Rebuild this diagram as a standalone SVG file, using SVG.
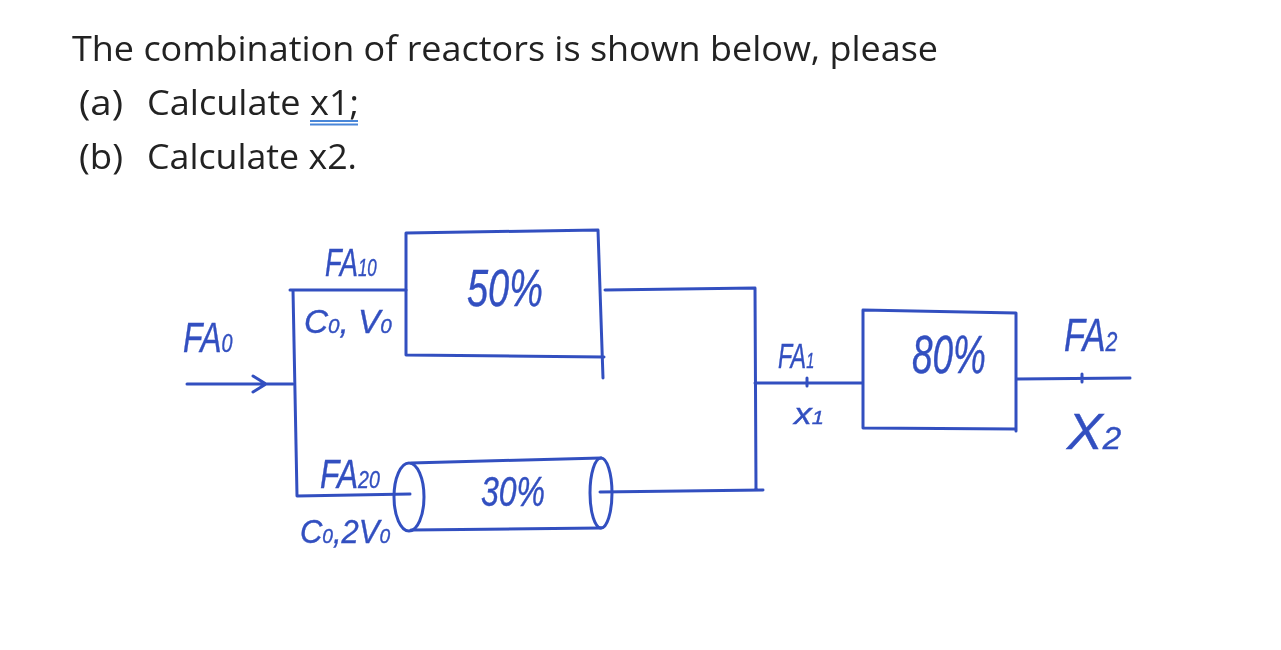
<svg xmlns="http://www.w3.org/2000/svg" width="1281" height="650" viewBox="0 0 1281 650">
<defs><filter id="soft" x="-5%" y="-5%" width="110%" height="110%"><feGaussianBlur stdDeviation="0.55"/></filter></defs>
<style>
.q{font-family:"Open Sans","Liberation Sans",sans-serif;font-size:34px;fill:#222}
.h{font-family:"Liberation Sans",sans-serif;font-style:italic;fill:#3350c0;stroke:#3350c0;stroke-width:.4}
.l{fill:none;stroke:#3350c0;stroke-width:3;stroke-linecap:round;stroke-linejoin:round}
.u{stroke:#4a86d8;stroke-width:1.8;fill:none}
.s{font-size:62%}
</style>
<rect width="1281" height="650" fill="#fff"/>
<g id="question" filter="url(#soft)">
<text class="q" x="72" y="61" textLength="866" lengthAdjust="spacingAndGlyphs">The combination of reactors is shown below, please</text>
<text class="q" x="79" y="115" textLength="44" lengthAdjust="spacingAndGlyphs">(a)</text>
<text class="q" x="147" y="115" textLength="212" lengthAdjust="spacingAndGlyphs">Calculate x1;</text>
<text class="q" x="79" y="169" textLength="44" lengthAdjust="spacingAndGlyphs">(b)</text>
<text class="q" x="147" y="169" textLength="210" lengthAdjust="spacingAndGlyphs">Calculate x2.</text>
<path class="u" d="M310 121H358M310 124.500H358"/>
</g>
<g id="connectors" filter="url(#soft)">
<path class="l" d="M187 384H293M253 376L266 384L253 392"/>
<path class="l" d="M290 290H406M293 290L297 496L410 494"/>
<path class="l" d="M605 290L755 288L756 490M600 492L763 490"/>
<path class="l" d="M755 383L862 383M807 378V386"/>
<path class="l" d="M1017 379L1130 378M1082 374V382"/>
</g>
<g id="reactor-50" filter="url(#soft)">
<path class="l" d="M406 233L598 230L603 378M406 233V355L604 357"/>
<text class="h" x="467" y="306" font-size="52" textLength="76" lengthAdjust="spacingAndGlyphs">50%</text>
</g>
<g id="reactor-30" filter="url(#soft)">
<path class="l" d="M411 463L601 458M411 530L601 528"/>
<ellipse class="l" cx="409" cy="497" rx="15" ry="34"/>
<ellipse class="l" cx="601" cy="493" rx="11" ry="35"/>
<text class="h" x="481" y="506" font-size="42" textLength="64" lengthAdjust="spacingAndGlyphs">30%</text>
</g>
<g id="reactor-80" filter="url(#soft)">
<path class="l" d="M863 310L1016 313V431M863 310V428L1016 429"/>
<text class="h" x="912" y="373" font-size="54" textLength="74" lengthAdjust="spacingAndGlyphs">80%</text>
</g>
<g id="labels" filter="url(#soft)">
<text class="h" transform="translate(183 352) scale(.76 1)" font-size="42">FA<tspan class="s">0</tspan></text>
<text class="h" transform="translate(325 276) scale(.72 1)" font-size="38">FA<tspan class="s">10</tspan></text>
<text class="h" transform="translate(304 333) scale(.98 1)" font-size="34">C<tspan class="s">0</tspan>, V<tspan class="s">0</tspan></text>
<text class="h" transform="translate(320 488) scale(.79 1)" font-size="40">FA<tspan class="s">20</tspan></text>
<text class="h" transform="translate(300 543) scale(.91 1)" font-size="34">C<tspan class="s">0</tspan>,2V<tspan class="s">0</tspan></text>
<text class="h" transform="translate(778 368) scale(.65 1)" font-size="36">FA<tspan class="s">1</tspan></text>
<text class="h" transform="translate(794 424) scale(1.18 1)" font-size="30">x<tspan class="s">1</tspan></text>
<text class="h" transform="translate(1064 351) scale(.75 1)" font-size="46">FA<tspan class="s">2</tspan></text>
<text class="h" transform="translate(1067 449) scale(1.07 1)" font-size="50">X<tspan class="s">2</tspan></text>
</g>
</svg>
